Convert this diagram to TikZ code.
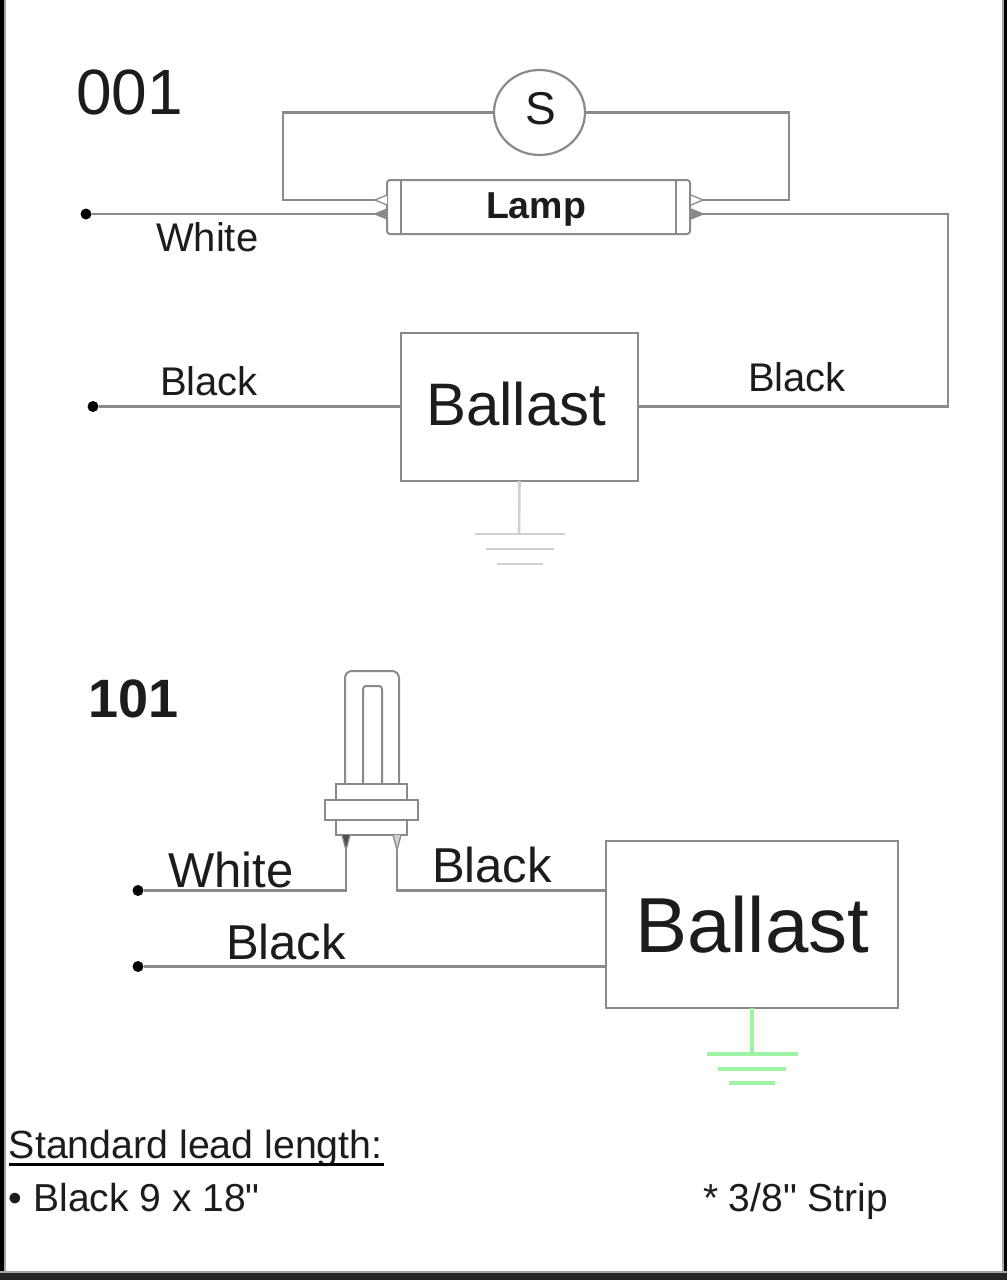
\documentclass[tikz,border=0pt]{standalone}
\usepackage{fontspec}
\setmainfont{Liberation Sans}
\newfontfamily\plainf{Liberation Sans}
\usetikzlibrary{calc,shapes.geometric}
\definecolor{wire}{HTML}{8A8A8A}
\definecolor{ink}{HTML}{1C1C1C}
\definecolor{gnda}{HTML}{D0D0D0}
\definecolor{gndb}{HTML}{A0F2A4}
\tikzset{
  wirepath/.style={draw=wire,line width=2.3pt,line join=miter},
  boxshape/.style={draw=wire,line width=2.3pt,fill=white,rectangle,inner sep=0pt,outer sep=0pt},
  lampline/.style={draw=wire,line width=2pt},
  terminal/.style={circle,fill=black,draw=none,minimum size=11pt,inner sep=0pt,outer sep=0pt},
  lbl/.style={anchor=base west,inner sep=0pt,outer sep=0pt,text=ink},
  fs/.style={font=\fontsize{#1}{#1}\selectfont},
  fsb/.style={font=\fontsize{#1}{#1}\selectfont\bfseries},
  gndgray/.style={draw=gnda,line width=2.6pt},
  gndgreen/.style={draw=gndb,line width=3.2pt},
}
\begin{document}
\begin{tikzpicture}[x=1pt,y=-1pt]
\useasboundingbox (0,0) rectangle (1007,1280);
\fill[white] (0,0) rectangle (1007,1280);
% frame
\fill[black!35] (0,0) rectangle (6,1280);
\fill[black] (0,0) rectangle (4,1280);
\fill[black!35] (1002,0) rectangle (1007,1280);
\fill[black] (1004,0) rectangle (1007,1280);
\fill[black!35] (0,1271) rectangle (1007,1280);
\fill[black!85] (0,1273) rectangle (1007,1280);

% ---- 001 ----
\node[lbl,fs=64] (t001) at (76,114) {001};
\node[draw=wire,line width=2.2pt,ellipse,minimum width=91pt,minimum height=85pt,inner sep=0pt,outer sep=0pt] (sw) at (539.5,112.5) {};
\node[lbl,anchor=base,fs=46,text=ink] (swlabel) at (541,124.5) {S};
\node[lampline,rectangle,rounded corners=3pt,minimum width=303pt,minimum height=54pt,inner sep=0pt,outer sep=0pt] (lamp) at (538.5,207) {};
\draw[lampline] ($(lamp.north west)+(14,0)$) -- ($(lamp.south west)+(14,0)$);
\draw[lampline] ($(lamp.north east)+(-14,0)$) -- ($(lamp.south east)+(-14,0)$);
\node[lbl,fsb=37.5] (lamplabel) at (486,218) {Lamp};
% lamp pins
\coordinate (pinLa) at (375,200);
\coordinate (pinLb) at (375,214);
\coordinate (pinRa) at (703,200);
\coordinate (pinRb) at (703,214);
\foreach \p/\s/\c in {pinLa/1/white,pinLb/1/wire,pinRa/-1/white,pinRb/-1/wire}{
  \draw[draw=wire,line width=1.3pt,fill=\c] ($(\p)+(\s*12,-5)$) -- (\p) -- ($(\p)+(\s*12,5)$);
}
\node[terminal] (d1) at (86,214) {};
\node[terminal] (d2) at (93,406.5) {};
\node[boxshape,minimum width=237pt,minimum height=148pt] (b1) at (519.5,407) {};
\node[lbl,fs=60] (b1label) at (426,425) {Ballast};
\coordinate (c1) at (283,112.5);
\coordinate (c2) at (789,112.5);
\coordinate (c3) at (948,214);
\draw[wirepath] (sw.west) -- (c1) |- (pinLa);
\draw[wirepath] (sw.east) -- (c2) |- (pinRa);
\draw[wirepath] (d1) -- (pinLb);
\draw[wirepath] (pinRb) -- (c3) |- (d2 -| b1.east);
\draw[wirepath] (d2) -- (d2 -| b1.west);
\node[lbl,fs=40] (w1) at (156,251) {White};
\node[lbl,fs=40] (k1) at (160,395.5) {Black};
\node[lbl,fs=40] (k2) at (748,391.5) {Black};
% ground 1
\coordinate (g1) at (519,534);
\draw[gndgray] (b1.south) -- (g1);
\draw[gndgray] (475,534) -- (565,534);
\draw[gndgray] (486,549) -- (554,549);
\draw[gndgray] (497,564) -- (543,564);

% ---- 101 ----
\node[lbl,fsb=54] (t101) at (88,717) {101};
% compact lamp
\draw[lampline,rounded corners=7pt] (345,785) -- (345,671) -- (399,671) -- (399,785);
\draw[lampline,rounded corners=3pt] (363,785) -- (363,686) -- (382,686) -- (382,785);
\node[lampline,rectangle,fill=white,minimum width=71pt,minimum height=16pt,inner sep=0pt,outer sep=0pt] (col1) at (371.5,792) {};
\node[lampline,rectangle,fill=white,minimum width=71pt,minimum height=15pt,inner sep=0pt,outer sep=0pt] (col2) at (371.5,827.5) {};
\node[lampline,rectangle,fill=white,minimum width=93pt,minimum height=20pt,inner sep=0pt,outer sep=0pt] (flange) at (371.5,810) {};
\coordinate (pinA) at (346,850);
\coordinate (pinB) at (397,850);
\draw[draw=wire,line width=1.3pt,fill=black!70] (342,835) -- (pinA) -- (350,835);
\draw[draw=wire,line width=1.3pt,fill=wire!40] (393,835) -- (pinB) -- (401,835);
\node[terminal] (d3) at (138,890.5) {};
\node[terminal] (d4) at (138,966.5) {};
\node[boxshape,minimum width=292pt,minimum height=167pt] (b2) at (752,924.5) {};
\node[lbl,fs=78] (b2label) at (635,952.5) {Ballast};
\coordinate (c4) at (346,890.5);
\coordinate (c5) at (397,890.5);
\draw[wirepath] (d3) -- (c4) -- (pinA);
\draw[wirepath] (pinB) -- (c5) -- (b2.west |- c5);
\draw[wirepath] (d4) -- (b2.west |- d4);
\node[lbl,fs=49] (w2) at (168,887.5) {White};
\node[lbl,fs=49] (k3) at (432,882.5) {Black};
\node[lbl,fs=49] (k4) at (226,959) {Black};
% ground 2
\coordinate (g2) at (752,1054);
\draw[gndgreen] (b2.south) -- (g2);
\draw[gndgreen] (707,1054) -- (798,1054);
\draw[gndgreen] (718,1069) -- (786,1069);
\draw[gndgreen] (729,1083) -- (775,1083);

% ---- notes ----
\node[lbl,fs=39.3] (std) at (9,1158) {Standard lead length:};
\draw[black,line width=2.4pt] (9,1164.5) -- (384,1164.5);
\node[lbl,fs=39] (lead) at (9,1211) {• Black 9 x 18{\plainf "}};
\node[lbl,fs=39] (strip) at (703,1211) {* 3/8{\plainf "} Strip};
\end{tikzpicture}
\end{document}
